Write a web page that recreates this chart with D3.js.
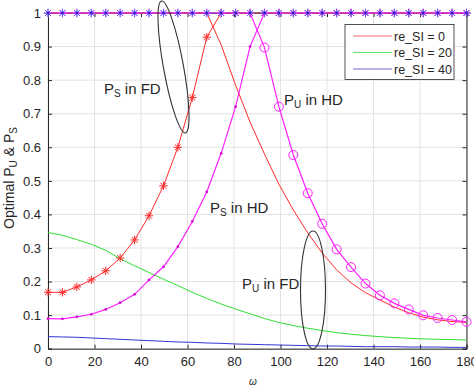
<!DOCTYPE html>
<html>
<head>
<meta charset="utf-8">
<script src="https://cdn.jsdelivr.net/npm/d3@7"></script>
<style>
body { margin: 0; background: #fff; }
svg { display: block; font-family: "Liberation Sans", Arial, sans-serif; }
</style>
</head>
<body>
<script>
// omega samples (30 points from 0 to 180)
var omega = [0, 6.21, 12.41, 18.62, 24.83, 31.03, 37.24, 43.45, 49.66, 55.86,
	62.07, 68.28, 74.48, 80.69, 86.9, 93.1, 99.31, 105.52, 111.72, 117.93,
	124.14, 130.34, 136.55, 142.76, 148.97, 155.17, 161.38, 167.59, 173.79, 180]

// FD, re_SI = 0
var psFD0 = [0.168, 0.168, 0.184, 0.205, 0.232, 0.270, 0.324, 0.396, 0.485, 0.600,
	0.748, 0.928, 1, 1, 1, 1, 1, 1, 1, 1,
	1, 1, 1, 1, 1, 1, 1, 1, 1, 1]
var puFD0 = [1, 1, 1, 1, 1, 1, 1, 1, 1, 1,
	1, 1, 0.905, 0.785, 0.675, 0.58, 0.49, 0.413, 0.345, 0.285,
	0.235, 0.196, 0.167, 0.145, 0.124, 0.107, 0.094, 0.086, 0.081, 0.078]

// FD, re_SI = 20
var psFD20 = [1, 1, 1, 1, 1, 1, 1, 1, 1, 1,
	1, 1, 1, 1, 1, 1, 1, 1, 1, 1,
	1, 1, 1, 1, 1, 1, 1, 1, 1, 1]
var puFD20 = [0.346, 0.338, 0.325, 0.311, 0.293, 0.268, 0.247, 0.227, 0.207, 0.188,
	0.168, 0.150, 0.133, 0.118, 0.104, 0.090, 0.078, 0.069, 0.061, 0.054,
	0.048, 0.043, 0.039, 0.036, 0.033, 0.031, 0.029, 0.028, 0.027, 0.026]

// FD, re_SI = 40
var psFD40 = [1, 1, 1, 1, 1, 1, 1, 1, 1, 1,
	1, 1, 1, 1, 1, 1, 1, 1, 1, 1,
	1, 1, 1, 1, 1, 1, 1, 1, 1, 1]
var puFD40 = [0.036, 0.035, 0.034, 0.032, 0.030, 0.028, 0.026, 0.024, 0.022, 0.020,
	0.019, 0.017, 0.016, 0.014, 0.013, 0.012, 0.011, 0.010, 0.009, 0.008,
	0.008, 0.007, 0.006, 0.006, 0.006, 0.005, 0.005, 0.005, 0.004, 0.004]

// HD
var psHD = [0.0895, 0.089, 0.095, 0.1025, 0.117, 0.137, 0.162, 0.205, 0.244, 0.304,
	0.379, 0.467, 0.582, 0.721, 0.90, 1, 1, 1, 1, 1,
	1, 1, 1, 1, 1, 1, 1, 1, 1, 1]
var puHD = [1, 1, 1, 1, 1, 1, 1, 1, 1, 1,
	1, 1, 1, 1, 1, 0.897, 0.721, 0.577, 0.463, 0.372,
	0.296, 0.243, 0.194, 0.159, 0.135, 0.117, 0.0995, 0.0915, 0.0855, 0.080]

var xTicks = [0, 20, 40, 60, 80, 100, 120, 140, 160, 180]
var yTicks = [0, 0.1, 0.2, 0.3, 0.4, 0.5, 0.6, 0.7, 0.8, 0.9, 1]
var legendLabels = ['re_SI = 0', 're_SI = 20', 're_SI = 40']
var legendColors = ['#f06a6a', '#6ae06a', '#6a6ad6']

var width = 474,
	height = 388,
	margin = {top: 13, left: 48, right: 7.5, bottom: 39.3};

var red = '#ff2a2a', green = '#2ee02e', blue = '#3434d0', magenta = '#ff1eff';

var svg = d3.select('body')
	.append('svg')
	.attr('width', width)
	.attr('height', height)

var x = d3.scaleLinear()
	.domain([0, 180])
	.range([margin.left, width - margin.right])

var y = d3.scaleLinear()
	.domain([0, 1])
	.range([height - margin.bottom, margin.top])

// grid
svg.append('g')
	.selectAll('line')
	.data(xTicks).enter()
	.append('line')
	.attr('x1', d => x(d)).attr('x2', d => x(d))
	.attr('y1', y(0)).attr('y2', y(1))
	.attr('stroke', '#e3e3e3')
svg.append('g')
	.selectAll('line')
	.data(yTicks).enter()
	.append('line')
	.attr('x1', x(0)).attr('x2', x(180))
	.attr('y1', d => y(d)).attr('y2', d => y(d))
	.attr('stroke', '#e3e3e3')

// axes
var ejeX = svg.append('g')
	.attr('transform', 'translate(0,' + y(0) + ')')
	.call(d3.axisBottom(x).tickValues(xTicks).tickSize(-4).tickPadding(8))
var ejeY = svg.append('g')
	.attr('transform', 'translate(' + x(0) + ',0)')
	.call(d3.axisLeft(y).tickValues(yTicks).tickFormat(d3.format('~g')).tickSize(-4).tickPadding(7))
var ejeX2 = svg.append('g')
	.attr('transform', 'translate(0,' + y(1) + ')')
	.call(d3.axisTop(x).tickValues(xTicks).tickSize(-4).tickFormat(''))
var ejeY2 = svg.append('g')
	.attr('transform', 'translate(' + x(180) + ',0)')
	.call(d3.axisRight(y).tickValues(yTicks).tickSize(-4).tickFormat(''))

svg.selectAll('.domain').attr('stroke', '#262626').attr('stroke-width', 1)
svg.selectAll('.tick line').attr('stroke', '#262626')
svg.selectAll('.tick text').attr('fill', '#262626').style('font-size', '13px')

// lines
var linea = d3.line()
	.x((d, i) => x(omega[i]))
	.y(d => y(d))

function serie(vals, color, w) {
	svg.append('path')
		.attr('d', linea(vals))
		.attr('fill', 'none')
		.attr('stroke', color)
		.attr('stroke-width', w || 1)
}

function asteriscos(vals, color) {
	var s = 4.2, t = s * 0.707
	var p = 'M' + (-s) + ',0L' + s + ',0M0,' + (-s) + 'L0,' + s +
		'M' + (-t) + ',' + (-t) + 'L' + t + ',' + t + 'M' + (-t) + ',' + t + 'L' + t + ',' + (-t)
	svg.append('g')
		.selectAll('path')
		.data(vals).enter()
		.append('path')
		.attr('transform', (d, i) => 'translate(' + x(omega[i]) + ',' + y(d) + ')')
		.attr('d', p)
		.attr('stroke', color)
		.attr('stroke-width', 1)
}

serie(psFD20, green)
serie(psFD40, blue)
serie(puFD20, green)
serie(puFD40, blue)
serie(psFD0, red)
serie(puFD0, red)
asteriscos(psFD0, red)
asteriscos(psFD20, '#a070ff')
asteriscos(psFD40, '#7a52ff')
serie(psHD, magenta, 1.2)
serie(puHD, magenta, 1.2)

// HD markers
svg.append('g')
	.selectAll('circle')
	.data(psHD.map((d, i) => [omega[i], d]).filter(d => d[1] < 1)).enter()
	.append('circle')
	.attr('cx', d => x(d[0]))
	.attr('cy', d => y(d[1]))
	.attr('r', 1.4)
	.attr('fill', '#d010d0')
svg.append('g')
	.selectAll('circle')
	.data(puHD.map((d, i) => [omega[i], d]).filter(d => d[1] < 1)).enter()
	.append('circle')
	.attr('cx', d => x(d[0]))
	.attr('cy', d => y(d[1]))
	.attr('r', 4.5)
	.attr('fill', 'none')
	.attr('stroke', magenta)
	.attr('stroke-width', 1)

// blue centres of the top asterisks
svg.append('g')
	.selectAll('circle')
	.data(psFD40).enter()
	.append('circle')
	.attr('cx', (d, i) => x(omega[i]))
	.attr('cy', d => y(d))
	.attr('r', 1.3)
	.attr('fill', '#2020c0')

// ellipses
svg.append('ellipse')
	.attr('transform', 'translate(173.5,67) rotate(79.7)')
	.attr('rx', 67).attr('ry', 10)
	.attr('fill', 'none').attr('stroke', '#333').attr('stroke-width', 1.1)
svg.append('ellipse')
	.attr('cx', 313).attr('cy', 290)
	.attr('rx', 12.5).attr('ry', 59)
	.attr('fill', 'none').attr('stroke', '#333').attr('stroke-width', 1.1)

// annotations
function nota(px, py, sub, rest) {
	var t = svg.append('text')
		.attr('x', px).attr('y', py)
		.attr('fill', '#262626')
		.style('font-size', '15px')
	t.append('tspan').text('P')
	t.append('tspan').attr('dy', 3).style('font-size', '10px').text(sub)
	t.append('tspan').attr('dy', -3).text(rest)
}
nota(104, 94, 'S', ' in FD')
nota(284, 105, 'U', ' in HD')
nota(210, 213, 'S', ' in HD')
nota(242, 289, 'U', ' in FD')

// legend
var leg = svg.append('g')
leg.append('rect')
	.attr('x', 345).attr('y', 24.5)
	.attr('width', 109).attr('height', 55)
	.attr('fill', '#fff').attr('stroke', '#262626').attr('stroke-width', 0.8)
legendLabels.forEach(function(l, i) {
	var yy = 36 + i * 16.5
	leg.append('line')
		.attr('x1', 353).attr('x2', 392)
		.attr('y1', yy).attr('y2', yy)
		.attr('stroke', legendColors[i]).attr('stroke-width', 1.2)
	leg.append('text')
		.attr('x', 394).attr('y', yy + 4.5)
		.attr('fill', '#262626')
		.style('font-size', '12.5px')
		.text(l)
})

// axis titles
var yl = svg.append('text')
	.attr('transform', 'translate(14,178) rotate(-90)')
	.attr('text-anchor', 'middle')
	.attr('fill', '#262626')
	.style('font-size', '14px')
yl.append('tspan').text('Optimal P')
yl.append('tspan').attr('dy', 3).style('font-size', '10px').text('U')
yl.append('tspan').attr('dy', -3).text(' & P')
yl.append('tspan').attr('dy', 3).style('font-size', '10px').text('S')

svg.append('text')
	.attr('x', 253).attr('y', 385)
	.attr('text-anchor', 'middle')
	.attr('fill', '#262626')
	.style('font-size', '10px')
	.style('font-style', 'italic')
	.text('ω')
</script>
</body>
</html>
